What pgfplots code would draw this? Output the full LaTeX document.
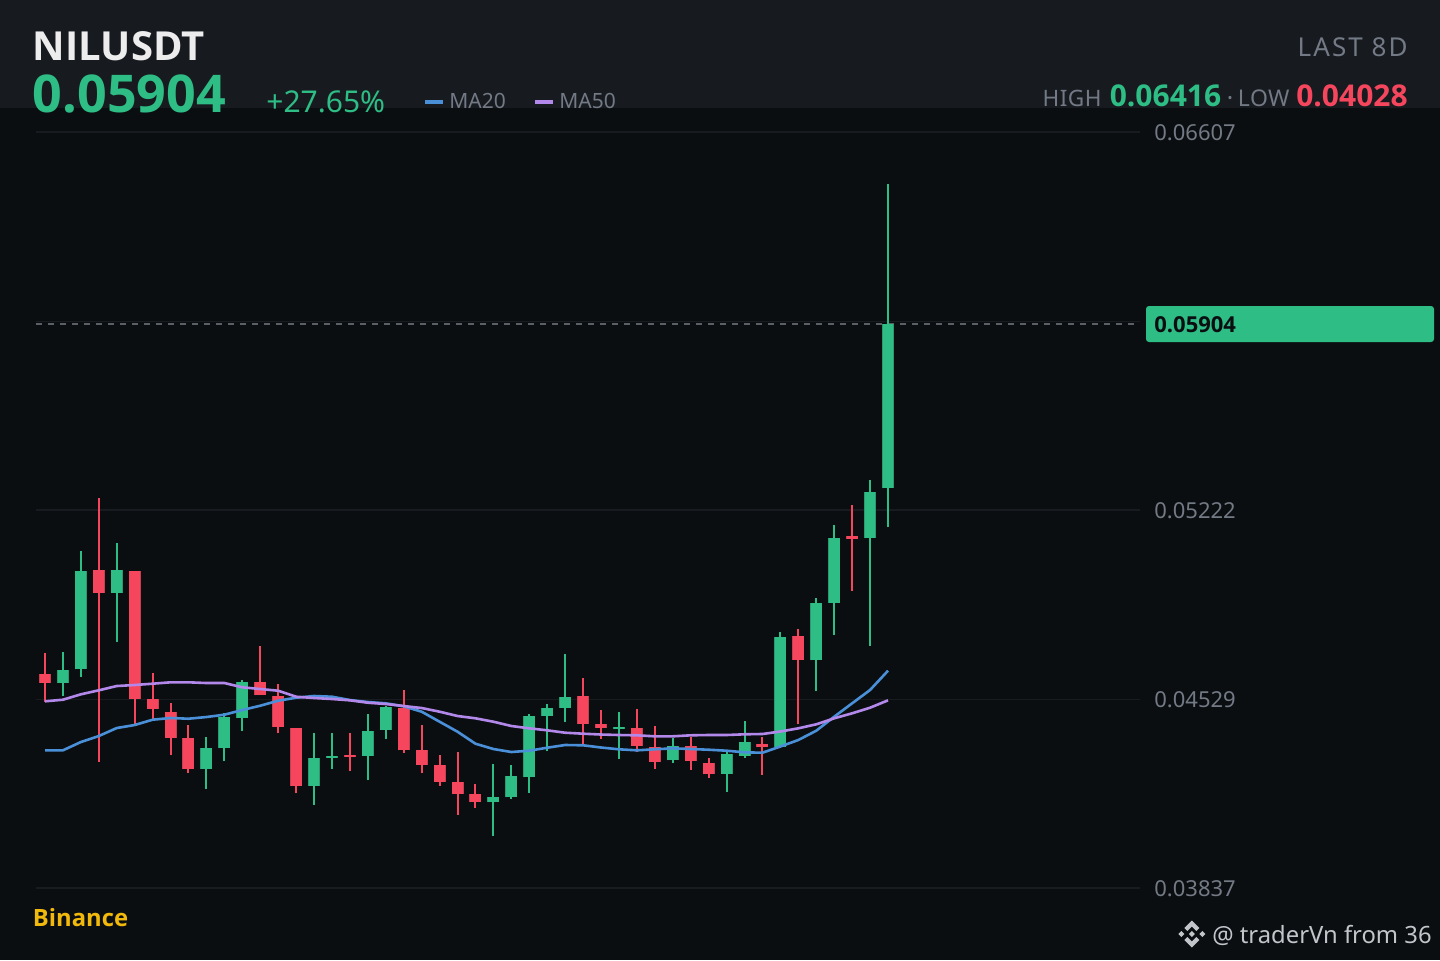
\documentclass[border=0pt]{standalone}
\usepackage{pgfplots}
\usepackage{pgfplotstable}
\usepackage{fontspec}
\pgfplotsset{compat=1.18}
\setmainfont{Noto Sans}
\newfontfamily\boldf{Open Sans}
\newcommand{\bfx}{\boldf\bfseries}
\newfontfamily\spaced[LetterSpace=8]{Noto Sans}
\newfontfamily\spacedsmall[LetterSpace=2]{Noto Sans}
\definecolor{bgmain}{HTML}{0B0E11}
\definecolor{bgtop}{HTML}{171B20}
\definecolor{up}{HTML}{2EBD85}
\definecolor{upedge}{HTML}{2A9A70}
\definecolor{down}{HTML}{F6465D}
\definecolor{downedge}{HTML}{C93F52}
\definecolor{maone}{HTML}{4A90D9}
\definecolor{matwo}{HTML}{B388EB}
\definecolor{gridc}{HTML}{181C20}
\definecolor{labc}{HTML}{737A85}
\definecolor{dashc}{HTML}{5A6066}
\definecolor{amber}{HTML}{F0B90B}
\definecolor{wm}{HTML}{C2C5CA}
% i low bodylo bodyhi high
\pgfplotstableread{
i low bodylo bodyhi high
1 0.045405 0.045892 0.046347 0.047006
2 0.046101 0.046383 0.049996 0.050718
4 0.047383 0.049190 0.050011 0.051000
9 0.042008 0.042730 0.043489 0.043903
10 0.043023 0.043489 0.044624 0.044793
11 0.044133 0.044588 0.045907 0.045980
15 0.041422 0.042118 0.043152 0.044038
16 0.042730 0.043144 0.043195 0.044038
18 0.042316 0.043206 0.044111 0.044734
19 0.043840 0.044159 0.045013 0.045049
25 0.040280 0.041510 0.041715 0.042902
26 0.041642 0.041693 0.042485 0.042866
27 0.041862 0.042426 0.044661 0.044734
28 0.043379 0.044683 0.044954 0.045112
29 0.044452 0.044976 0.045368 0.046944
32 0.043086 0.044185 0.044258 0.044830
35 0.042950 0.043049 0.043562 0.043866
38 0.041876 0.042558 0.043280 0.043342
39 0.043144 0.043217 0.043708 0.044500
41 0.043489 0.043525 0.047556 0.047750
43 0.045577 0.046713 0.048801 0.048985
44 0.047640 0.048823 0.051183 0.051670
46 0.047248 0.051183 0.052890 0.053319
47 0.051586 0.053015 0.059040 0.064160
}\upcandles
\pgfplotstableread{
i low bodylo bodyhi high
0 0.045185 0.045900 0.046229 0.046980
3 0.042987 0.049179 0.050011 0.052649
5 0.044368 0.045284 0.049996 0.049996
6 0.044551 0.044940 0.045284 0.046248
7 0.043254 0.043866 0.044808 0.045137
8 0.042573 0.042730 0.043855 0.044331
12 0.045431 0.045431 0.045918 0.047237
13 0.044038 0.044269 0.045416 0.045845
14 0.041840 0.042118 0.044243 0.044243
17 0.042657 0.043181 0.043243 0.044038
20 0.043327 0.043415 0.044965 0.045625
21 0.042573 0.042888 0.043415 0.044331
22 0.042118 0.042265 0.042877 0.043243
23 0.041056 0.041803 0.042243 0.043342
24 0.041301 0.041510 0.041814 0.042192
30 0.043610 0.044368 0.045394 0.046054
31 0.043829 0.044243 0.044368 0.044892
33 0.043342 0.043573 0.044232 0.044918
34 0.042741 0.042998 0.043525 0.044295
36 0.042705 0.043023 0.043562 0.043903
37 0.042389 0.042536 0.042961 0.043122
40 0.042521 0.043525 0.043657 0.043903
42 0.044368 0.046724 0.047614 0.047849
45 0.049252 0.051157 0.051267 0.052403
}\downcandles
\pgfplotstableread{
i ma20 ma50
0 0.043415 0.045211
1 0.043415 0.045269
2 0.043719 0.045467
3 0.043939 0.045614
4 0.044232 0.045771
5 0.044342 0.045808
6 0.044537 0.045856
7 0.044599 0.045907
8 0.044573 0.045907
9 0.044635 0.045881
10 0.044720 0.045881
11 0.044892 0.045724
12 0.045049 0.045661
13 0.045233 0.045599
14 0.045343 0.045379
15 0.045405 0.045332
16 0.045379 0.045295
17 0.045258 0.045247
18 0.045185 0.045159
19 0.045137 0.045112
20 0.045028 0.045038
21 0.044830 0.044965
22 0.044463 0.044830
23 0.044097 0.044672
24 0.043657 0.044588
25 0.043463 0.044463
26 0.043353 0.044306
27 0.043401 0.044221
28 0.043511 0.044148
29 0.043610 0.044060
30 0.043599 0.044024
31 0.043518 0.043994
32 0.043452 0.043976
33 0.043415 0.043965
34 0.043452 0.043928
35 0.043489 0.043928
36 0.043463 0.043965
37 0.043437 0.043976
38 0.043401 0.043976
39 0.043342 0.044002
40 0.043327 0.044013
41 0.043555 0.044104
42 0.043793 0.044221
43 0.044133 0.044368
44 0.044646 0.044588
45 0.045137 0.044771
46 0.045625 0.044976
47 0.046332 0.045247
}\matable
\pgfplotsset{
  wick/.style={no markers, draw=none, forget plot,
    error bars/.cd, y dir=plus, y explicit, error mark=none,
    error bar style={line width=1pt, color=#1, line cap=butt}},
  body/.style 2 args={no markers, draw=none, forget plot,
    error bars/.cd, y dir=plus, y explicit, error mark=none,
    error bar style={line width=#2, color=#1, line cap=butt}},
}
\begin{document}
\begin{tikzpicture}
\begin{scope}[x=0.5pt,y=-0.5pt]
  \path[use as bounding box] (0,0) rectangle (1440,960);
  \fill[bgmain] (0,0) rectangle (1440,960);
  \fill[bgtop] (0,0) rectangle (1440,108);
\end{scope}
\begin{axis}[
  at={(18pt,-444pt)}, anchor=south west,
  scale only axis, width=552pt, height=378pt,
  xmin=-0.5018, xmax=61.05,
  ymin=0.03837, ymax=0.06607,
  clip=false,
  axis line style={draw=none},
  xtick=\empty,
  ytick={0.03837,0.04529,0.05222,0.05914,0.06607},
  yticklabels={0.03837,0.04529,0.05222,{},0.06607},
  scaled y ticks=false,
  yticklabel pos=right,
  ymajorgrids,
  grid style={gridc, line width=0.6pt},
  major tick length=0pt,
  ytick style={draw=none},
  yticklabel style={anchor=west, inner sep=0pt, xshift=7pt, yshift=-0.5pt, text=labc, font=\fontsize{11}{13}\selectfont},
]
\addplot[color=dashc, line width=0.75pt, dash pattern=on 3pt off 3pt, forget plot] coordinates {(-0.5018,0.05904) (60.8,0.05904)};
% wicks
\addplot[wick=up] table [x=i, y=low, y error plus expr=\thisrow{high}-\thisrow{low}] {\upcandles};
\addplot[wick=down] table [x=i, y=low, y error plus expr=\thisrow{high}-\thisrow{low}] {\downcandles};
% bodies
\addplot[body={upedge}{6pt}] table [x=i, y=bodylo, y error plus expr=\thisrow{bodyhi}-\thisrow{bodylo}] {\upcandles};
\addplot[body={up}{5.4pt}] table [x=i, y=bodylo, y error plus expr=\thisrow{bodyhi}-\thisrow{bodylo}] {\upcandles};
\addplot[body={downedge}{6pt}] table [x=i, y=bodylo, y error plus expr=\thisrow{bodyhi}-\thisrow{bodylo}] {\downcandles};
\addplot[body={down}{5.4pt}] table [x=i, y=bodylo, y error plus expr=\thisrow{bodyhi}-\thisrow{bodylo}] {\downcandles};
% moving averages
\addplot[color=maone, line width=1.3pt, no markers] table [x=i, y=ma20] {\matable};
\addplot[color=matwo, line width=1.3pt, no markers] table [x=i, y=ma50] {\matable};
\end{axis}
\begin{scope}[x=0.5pt,y=-0.5pt]
  \node[anchor=base west, inner sep=0pt, text=white!93!black, font=\fontsize{20}{22}\selectfont\bfx] at (32.5,60) {NILUSDT};
  \node[anchor=base west, inner sep=0pt, text=up, font=\fontsize{26}{30}\selectfont\bfx] at (32.5,112) {0.05904};
  \node[anchor=base west, inner sep=0pt, text=up, font=\fontsize{15}{18}\selectfont] at (266,112) {+27.65\%};
  \fill[maone] (425,100) rectangle (443,104);
  \node[anchor=base west, inner sep=0pt, text=labc, font=\fontsize{10.5}{13}\selectfont] at (449,108) {MA20};
  \fill[matwo] (535,100) rectangle (553,104);
  \node[anchor=base west, inner sep=0pt, text=labc, font=\fontsize{10.5}{13}\selectfont] at (559,108) {MA50};
  \node[anchor=base east, inner sep=0pt, text=labc, font=\fontsize{13}{15}\selectfont\spaced] at (1408,56) {LAST 8D};
  \node[anchor=base east, inner sep=0pt, text=down, font=\fontsize{15}{18}\selectfont\bfx] at (1408,106) {0.04028};
  \node[anchor=base east, inner sep=0pt, text=labc, font=\fontsize{11.5}{14}\selectfont\spacedsmall] at (1290,106) {LOW};
  \node[anchor=base, inner sep=0pt, text=labc, font=\fontsize{12}{14}\selectfont] at (1230,106) {·};
  \node[anchor=base east, inner sep=0pt, text=up, font=\fontsize{15}{18}\selectfont\bfx] at (1221.5,106) {0.06416};
  \node[anchor=base east, inner sep=0pt, text=labc, font=\fontsize{11.3}{14}\selectfont\spacedsmall] at (1102,106) {HIGH};
  \fill[up, rounded corners=1.5pt] (1146,306) rectangle (1434,342);
  \node[anchor=base west, inner sep=0pt, text=bgmain, font=\fontsize{11}{13}\selectfont\bfx] at (1154,332) {0.05904};
  \node[anchor=base west, inner sep=0pt, text=amber, font=\fontsize{11.9}{14}\selectfont\bfx] at (32.5,926) {Binance};
  \node[anchor=base east, inner sep=0pt, text=wm, font=\fontsize{11.9}{15}\selectfont] at (1432,943) {@ traderVn from 36};
  % exchange logo
  \begin{scope}[shift={(1191.8,934)}]
    \fill[wm] (-13.5,0) -- (-10.5,-3) -- (-7.5,0) -- (-10.5,3) -- cycle;
    \fill[wm] (13.5,0) -- (10.5,-3) -- (7.5,0) -- (10.5,3) -- cycle;
    \fill[wm] (0,-3) -- (3,0) -- (0,3) -- (-3,0) -- cycle;
    \fill[wm] (0,-13.5) -- (7.5,-6) -- (4.5,-3) -- (0,-7.5) -- (-4.5,-3) -- (-7.5,-6) -- cycle;
    \fill[wm] (0,13.5) -- (7.5,6) -- (4.5,3) -- (0,7.5) -- (-4.5,3) -- (-7.5,6) -- cycle;
  \end{scope}
\end{scope}
\end{tikzpicture}
\end{document}
